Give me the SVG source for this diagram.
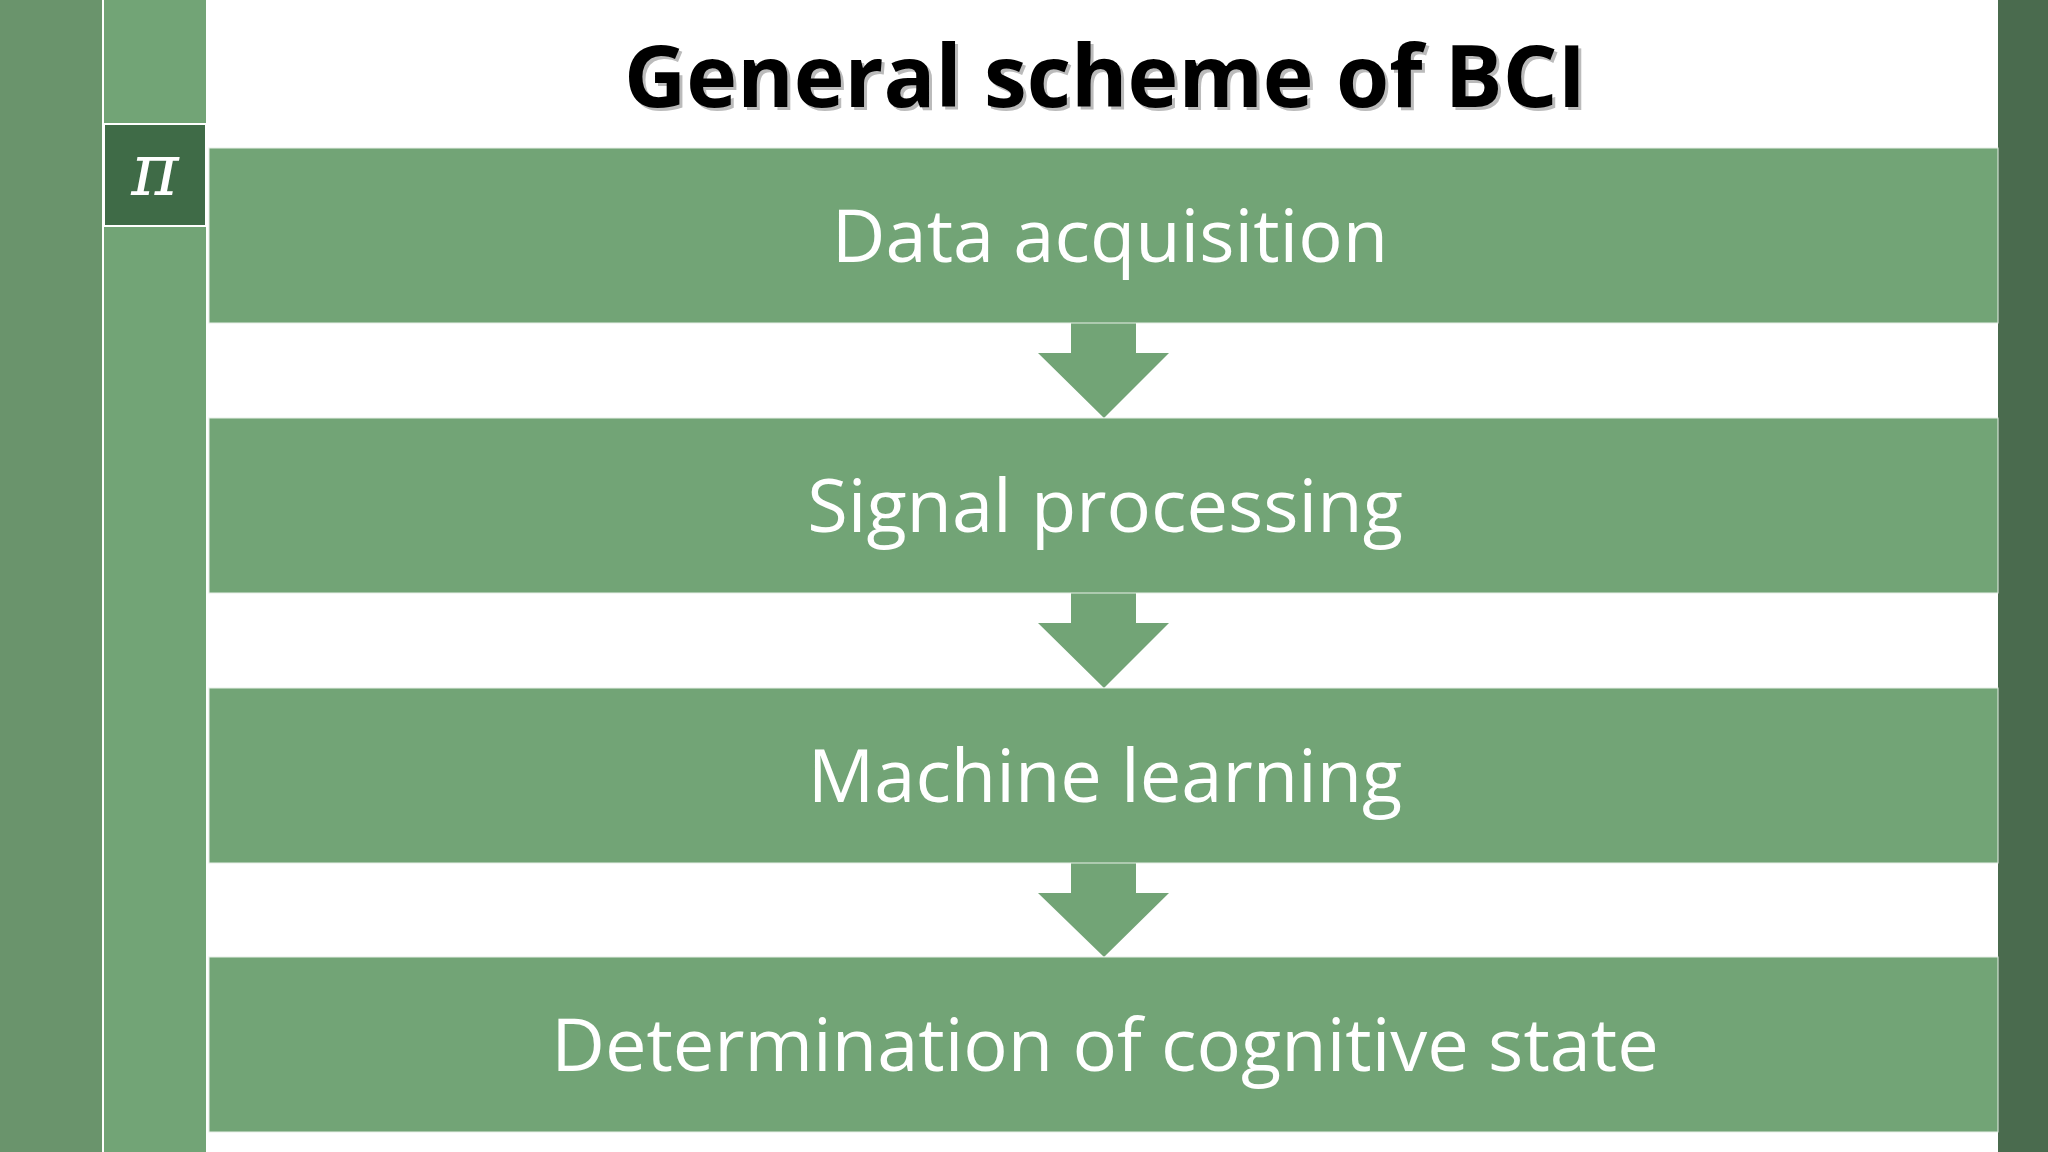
<svg xmlns="http://www.w3.org/2000/svg" width="2048" height="1152" viewBox="0 0 2048 1152">
<style>
.box{fill:#72a476;stroke:#e8f0e8;stroke-width:1}
.lbl{font-family:"Open Sans","Liberation Sans",sans-serif;font-size:74px;fill:#fff;text-anchor:middle}
.arr{fill:#72a476}
</style>
<rect width="2048" height="1152" fill="#fff"/>
<rect x="0" y="0" width="102" height="1152" fill="#6a946c"/>
<rect x="104" y="0" width="102" height="1152" fill="#72a476"/>
<rect x="1998" y="0" width="50" height="1152" fill="#4a6b4e"/>
<g id="pi"><rect x="104" y="124" width="102" height="102" fill="#3f6b47" stroke="#fff" stroke-width="2"/>
<text x="155" y="195" font-family="DejaVu Serif,serif" font-style="italic" font-size="72" fill="#fff" text-anchor="middle">π</text></g>
<g id="title"><text x="1108" y="110" font-family="Open Sans,Liberation Sans,sans-serif" font-weight="bold" font-size="86" fill="#bbb" text-anchor="middle">General scheme of BCI</text>
<text x="1105" y="107" font-family="Open Sans,Liberation Sans,sans-serif" font-weight="bold" font-size="86" fill="#000" text-anchor="middle">General scheme of BCI</text></g>
<g id="connectors">
<polygon class="arr" points="1071,323 1136,323 1136,353 1169,353 1104,418 1038,353 1071,353"/>
<polygon class="arr" points="1071,593 1136,593 1136,623 1169,623 1104,688 1038,623 1071,623"/>
<polygon class="arr" points="1071,863 1136,863 1136,893 1169,893 1104,957 1038,893 1071,893"/>
</g>
<g id="n1"><rect class="box" x="209" y="148" width="1789" height="175"/><text class="lbl" x="1110" y="262">Data acquisition</text></g>
<g id="n2"><rect class="box" x="209" y="418" width="1789" height="175"/><text class="lbl" x="1105" y="532">Signal processing</text></g>
<g id="n3"><rect class="box" x="209" y="688" width="1789" height="175"/><text class="lbl" x="1105" y="802">Machine learning</text></g>
<g id="n4"><rect class="box" x="209" y="957" width="1789" height="175"/><text class="lbl" x="1105" y="1071">Determination of cognitive state</text></g>
</svg>
